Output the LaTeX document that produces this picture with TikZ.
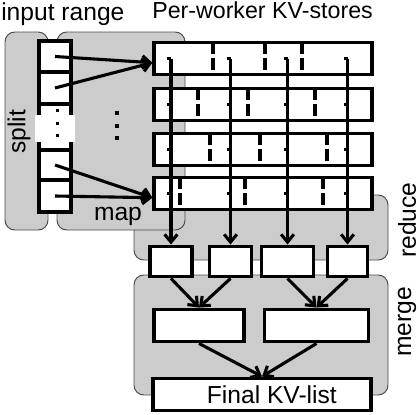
\documentclass[tikz,border=0pt]{standalone}
\usepackage{fontspec}
\setmainfont{Liberation Sans}
\usetikzlibrary{arrows.meta,calc}

\begin{document}
\begin{tikzpicture}
  [x=0.025cm,y=-0.025cm,
   region/.style={draw=black!70,line width=0.7pt,fill=black!20,rounded corners=7pt},
   box/.style={draw,line width=2.8pt,fill=white,inner sep=0pt},
   arr/.style={line width=2.2pt,-{Straight Barb[length=5.5pt,width=9pt]}},
   sep/.style={line width=2.8pt,dash pattern=on 8.5pt off 2.5pt},
   lbl/.style={font=\fontsize{17.5}{20}\selectfont,inner sep=0pt}]
  \useasboundingbox (0,0) rectangle (420,414);

  % phases
  \draw[region] (134,195) rectangle (388,260);
  \draw[region] (134,275) rectangle (388,395);
  \draw[region] (5,32) rectangle (48,230);
  \draw[region] (57,32) rectangle (185,230);

  % input range
  \foreach \n/\y/\h in {in1/56.5/0.775,in2/88/0.8,in3/127/1.15,in4/165/0.75,in5/196/0.8}
    \node[box,minimum width=0.8cm,minimum height=\h cm] (\n) at (55,\y) {};
  \fill[white] (35,115) rectangle (75,142);
  \foreach \y in {110,123,135} {
    \fill (55.5,\y-1.5) rectangle ++(3.5,3.5);
    \fill (115,\y+1) rectangle ++(3.5,3.5);
  }

  % KV-stores
  \foreach \n/\y in {kv1/58.5,kv2/104.5,kv3/149.5,kv4/193.5}
    \node[box,minimum width=5.43cm,minimum height=0.8cm] (\n) at (263,\y) {};
  \foreach \y/\xs in {58.5/{213,265,302},104.5/{198,248,315},149.5/{210,260,327},193.5/{180,245,323}}
    \foreach \x in \xs
      \draw[sep] (\x,\y-16) -- (\x,\y+16);

  % reduce, merge
  \foreach \n/\x/\w in {r1/171/1.03,r2/230.5/1.05,r3/287.5/1.3,r4/347.5/1.0}
    \node[box,minimum width=\w cm,minimum height=0.75cm] (\n) at (\x,261.5) {};
  \node[box,minimum width=2.23cm,minimum height=0.8cm] (m1) at (199,325.5) {};
  \node[box,minimum width=2.6cm,minimum height=0.8cm] (m2) at (316.5,325.5) {};
  \node[box,lbl,minimum width=5.43cm,minimum height=0.8cm] (fin) at (262,394.5) {\hspace{14pt}Final KV-list};

  \foreach \r in {r1,r2,r3,r4} {
    \draw[arr] (\r.north |- kv1.center) -- (\r.north);
    \draw[line width=2.2pt] ($(\r.north |- kv1.center)+(-2.5pt,0)$) -- (\r.north |- kv1.center);
    \foreach \k in {kv2,kv3,kv4}
      \fill ($(\r.north |- \k.center)+(-2.8pt,-1.2pt)$) rectangle ++(2.8pt,2.4pt);
  }

  \foreach \from/\to in {in1/kv1,in2/kv1,in4/kv4,in5/kv4}
    \draw[arr] (\from.center) -- ([yshift=-3pt]\to.west);

  \foreach \from/\to in {r1/m1,r2/m1,r3/m2,r4/m2,m1/fin,m2/fin}
    \draw[arr] (\from.south) -- (\to.north);

  % labels
  \node[lbl,anchor=base west] (tin) at (1,20) {input range};
  \node[lbl,anchor=base west,font=\fontsize{16.5}{20}\selectfont] (tkv) at (152,19) {Per-worker KV-stores};
  \node[lbl,rotate=90] (tsplit) at (19,132) {split};
  \node[lbl,anchor=base] (tmap) at (118,220) {map};
  \node[lbl,rotate=90] (tred) at (407,220) {reduce};
  \node[lbl,rotate=90] (tmrg) at (407,322) {merge};

\end{tikzpicture}
\end{document}
